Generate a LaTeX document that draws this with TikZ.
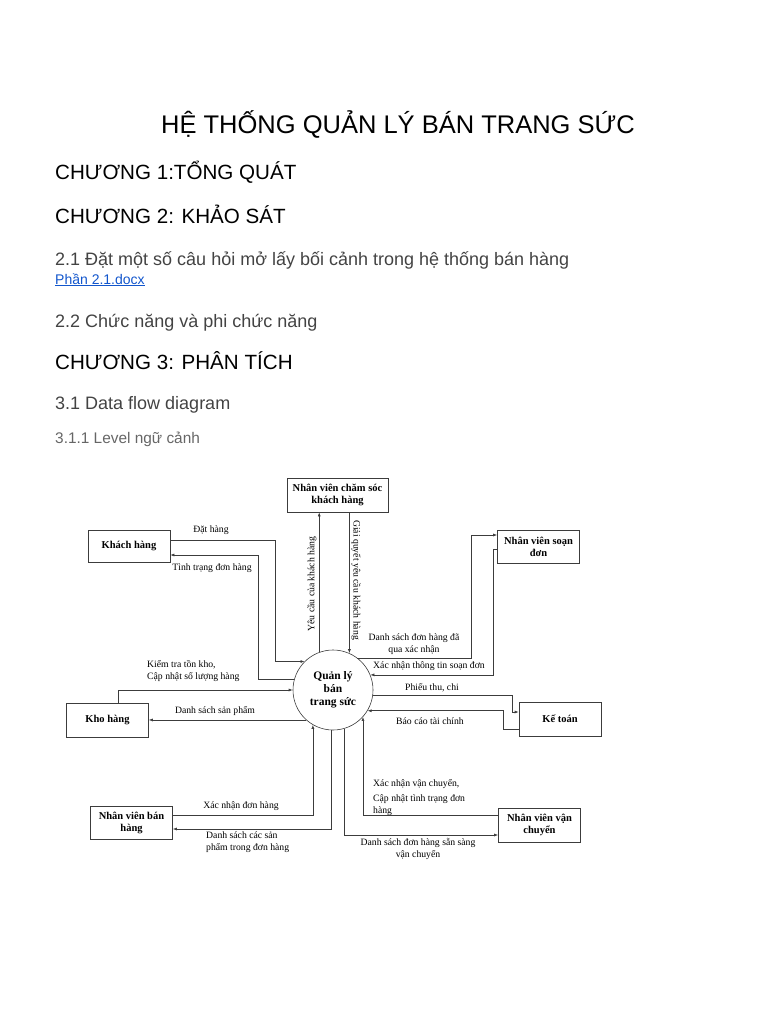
\documentclass[tikz,border=0pt]{standalone}
\usepackage{fontspec}
\setmainfont{Liberation Sans}
\newfontfamily\dfdfont{Liberation Serif}
\usetikzlibrary{arrows.meta}
\definecolor{HeadGray}{RGB}{67,67,67}
\definecolor{SubGray}{RGB}{102,102,102}
\definecolor{LinkBlue}{RGB}{17,85,204}
\definecolor{LineGray}{RGB}{60,60,60}

\begin{document}
\begin{tikzpicture}[x=1pt, y=-1pt,
 heading/.style={anchor=base west, inner sep=0pt, font=\fontsize{20.6}{24}\selectfont},
 subhead/.style={anchor=base west, inner sep=0pt, text=HeadGray, font=\fontsize{18}{21}\selectfont},
 entity/.style={draw=LineGray, line width=0.6pt, minimum width=82pt, minimum height=33pt, align=center, inner sep=1pt, font=\dfdfont\bfseries\fontsize{10.5}{12}\selectfont},
 process/.style={circle, draw=LineGray, line width=0.6pt, minimum size=80pt, inner sep=0pt, align=center, font=\dfdfont\bfseries\fontsize{11.5}{12.8}\selectfont},
 flow/.style={-{Latex[length=4pt,width=3pt]}, line width=0.6pt, draw=LineGray},
 lbl/.style={inner sep=0pt, align=center, font=\dfdfont\fontsize{9.7}{12}\selectfont},
]
\useasboundingbox (0,0) rectangle (768,1024);

% headings
\node[anchor=base, inner sep=0pt, font=\fontsize{25.5}{30}\selectfont] (title) at (398,134) {HỆ THỐNG QUẢN LÝ BÁN TRANG SỨC};
\node[heading] (ch1) at (55,180) {CHƯƠNG 1:TỔNG QUÁT};
\node[heading] (ch2) at (55,224) {CHƯƠNG 2: KHẢO SÁT};
\node[subhead] (s21) at (55,265) {2.1 Đặt một số câu hỏi mở lấy bối cảnh trong hệ thống bán hàng};
\node[anchor=base west, inner sep=0pt, text=LinkBlue, font=\fontsize{14}{16}\selectfont] (link) at (55,284) {\underline{Phần 2.1.docx}};
\node[subhead] (s22) at (55,327) {2.2 Chức năng và phi chức năng};
\node[heading] (ch3) at (55,369) {CHƯƠNG 3: PHÂN TÍCH};
\node[subhead] (s31) at (55,409) {3.1 Data flow diagram};
\node[anchor=base west, inner sep=0pt, text=SubGray, font=\fontsize{15.4}{18}\selectfont] (s311) at (55,443) {3.1.1 Level ngữ cảnh};

% entities and process
\node[process] (ql) at (333,690) {Quản lý\\bán\\trang sức};
\node[entity, minimum width=101pt, minimum height=34pt] (cs) at (337.5,495) {Nhân viên chăm sóc\\khách hàng};
\node[entity, minimum height=32pt] (kh) at (129,546) {Khách hàng};
\node[entity] (sd) at (538.5,546.5) {Nhân viên soạn\\đơn};
\node[entity, minimum height=34pt] (kho) at (107.5,720) {Kho hàng};
\node[entity, minimum height=34pt] (kt) at (560,719) {Kế toán};
\node[entity] (bh) at (131.5,822.5) {Nhân viên bán\\hàng};
\node[entity, minimum height=34pt] (vc) at (539.5,825) {Nhân viên vận\\chuyển};

% flows
\draw[flow] (kh.east |- 0,540) -| (ql.135.6 -| 275,0) -- (ql.135.6);
\draw[flow] (ql.164) -- (ql.164 -| 258,0) |- (kh.east |- 0,555);
\draw[flow] (ql.110.5) -- (ql.110.5 |- cs.south);
\draw[flow] (ql.66.4 |- cs.south) -- (ql.66.4);
\draw[flow] (ql.53.1) -- (ql.53.1 -| 471,0) |- (sd.west |- 0,535);
\draw[flow] (sd.west |- 0,549) -- ++(-4,0) |- (ql.22);
\draw[flow] (ql.-8.6) -- (ql.-8.6 -| 512,0) |- (kt.west |- 0,712);
\draw[flow] (kt.west |- 0,729) -- ++(-15,0) |- (ql.-31.7);
\draw[flow] (kho.north -| 118,0) |- (ql.180);
\draw[flow] (ql.228.6) -- (kho.east |- ql.228.6);
\draw[flow] (bh.east |- 0,815) -| (ql.240);
\draw[flow] (ql.267) |- (bh.east |- 0,829);
\draw[flow] (ql.287.5) |- (vc.west |- 0,835);
\draw[flow] (vc.west |- 0,815) -| (ql.318);

% flow labels
\node[lbl] (ldh) at (211,530) {Đặt hàng};
\node[lbl] (ltt) at (212,568) {Tình trạng đơn hàng};
\node[lbl, rotate=90] (lyc) at (312,584) {Yêu cầu của khách hàng};
\node[lbl, rotate=-90] (lgq) at (356,580) {Giải quyết yêu cầu khách hàng};
\node[lbl] (lds) at (414,644) {Danh sách đơn hàng đã\\qua xác nhận};
\node[lbl] (lxn) at (429,666) {Xác nhận thông tin soạn đơn};
\node[lbl] (lpt) at (432,688) {Phiếu thu, chi};
\node[lbl] (lbc) at (430,721) {Báo cáo tài chính};
\node[lbl, anchor=west, align=left] (lkt) at (147,671) {Kiểm tra tồn kho,\\Cập nhật số lượng hàng};
\node[lbl] (lsp) at (215,711) {Danh sách sản phẩm};
\node[lbl] (lxd) at (241,806) {Xác nhận đơn hàng};
\node[lbl, anchor=west, align=left] (lcs) at (206,842) {Danh sách các sản\\phẩm trong đơn hàng};
\node[lbl, anchor=west] (lvc) at (373,784) {Xác nhận vận chuyển,};
\node[lbl, anchor=west, align=left] (lcn) at (373,805) {Cập nhật tình trạng đơn\\hàng};
\node[lbl] (lss) at (418,849) {Danh sách đơn hàng sẵn sàng\\vận chuyển};
\end{tikzpicture}
\end{document}
